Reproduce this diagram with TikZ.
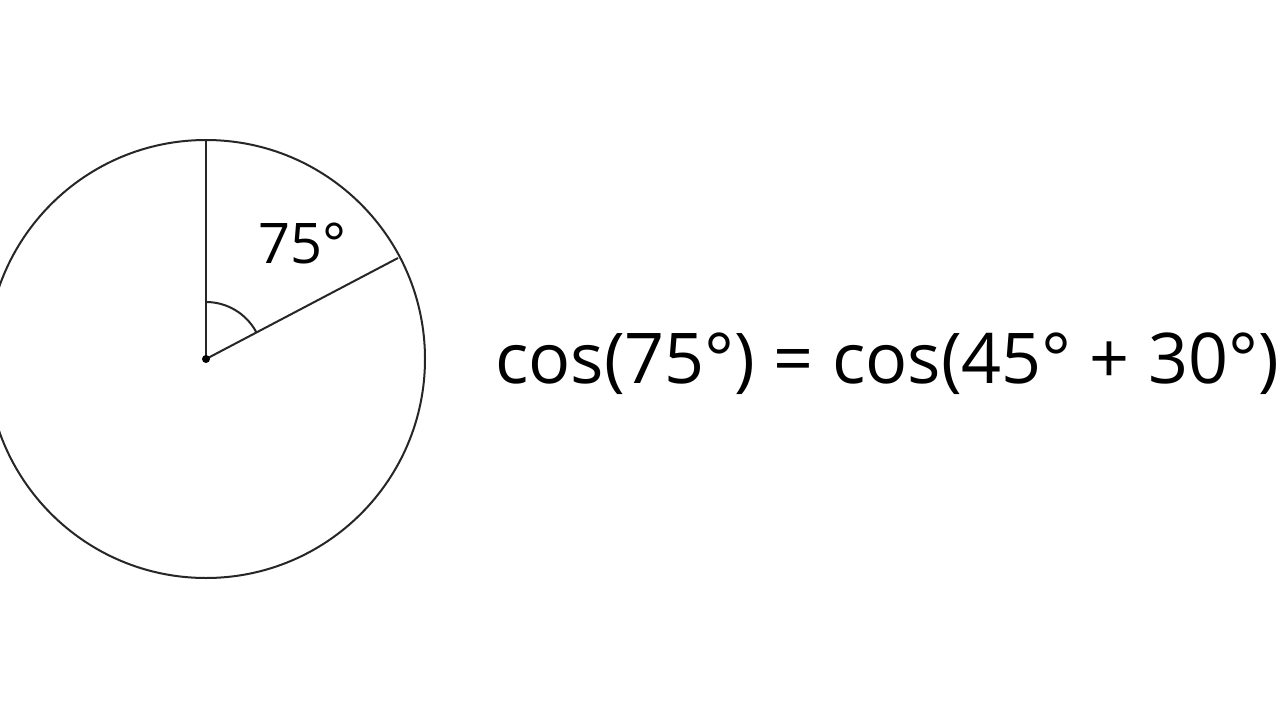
\documentclass[tikz,border=0pt]{standalone}
\usepackage{fontspec}
\setmainfont{Open Sans}
\begin{document}
\begin{tikzpicture}[x=1pt,y=-1pt,
  ln/.style={line width=2pt,draw=black!85},
  lbl/.style={inner sep=0pt,anchor=base west}]
\clip (0,0) rectangle (1280,720);
\fill[white] (0,0) rectangle (1280,720);
\coordinate (O) at (206,359);
\node[circle,draw=black!85,line width=2pt,minimum size=438pt,inner sep=0pt] (circ) at (O) {};
\coordinate (T) at (206,141);
\coordinate (P) at (398,258);
\coordinate (A) at (206,302);
\draw[ln] (O) -- (T);
\draw[ln] (O) -- (P);
\draw[ln] (A) arc[start angle=90,end angle=28,radius=57pt];
\fill[black] (O) circle (4pt);
\node[lbl,font=\fontsize{56}{60}\selectfont] (a) at (258,263) {75°};
\node[lbl,font=\fontsize{70}{80}\selectfont] (eq) at (495,383) {cos(75°) = cos(45° + 30°)};
\end{tikzpicture}
\end{document}
